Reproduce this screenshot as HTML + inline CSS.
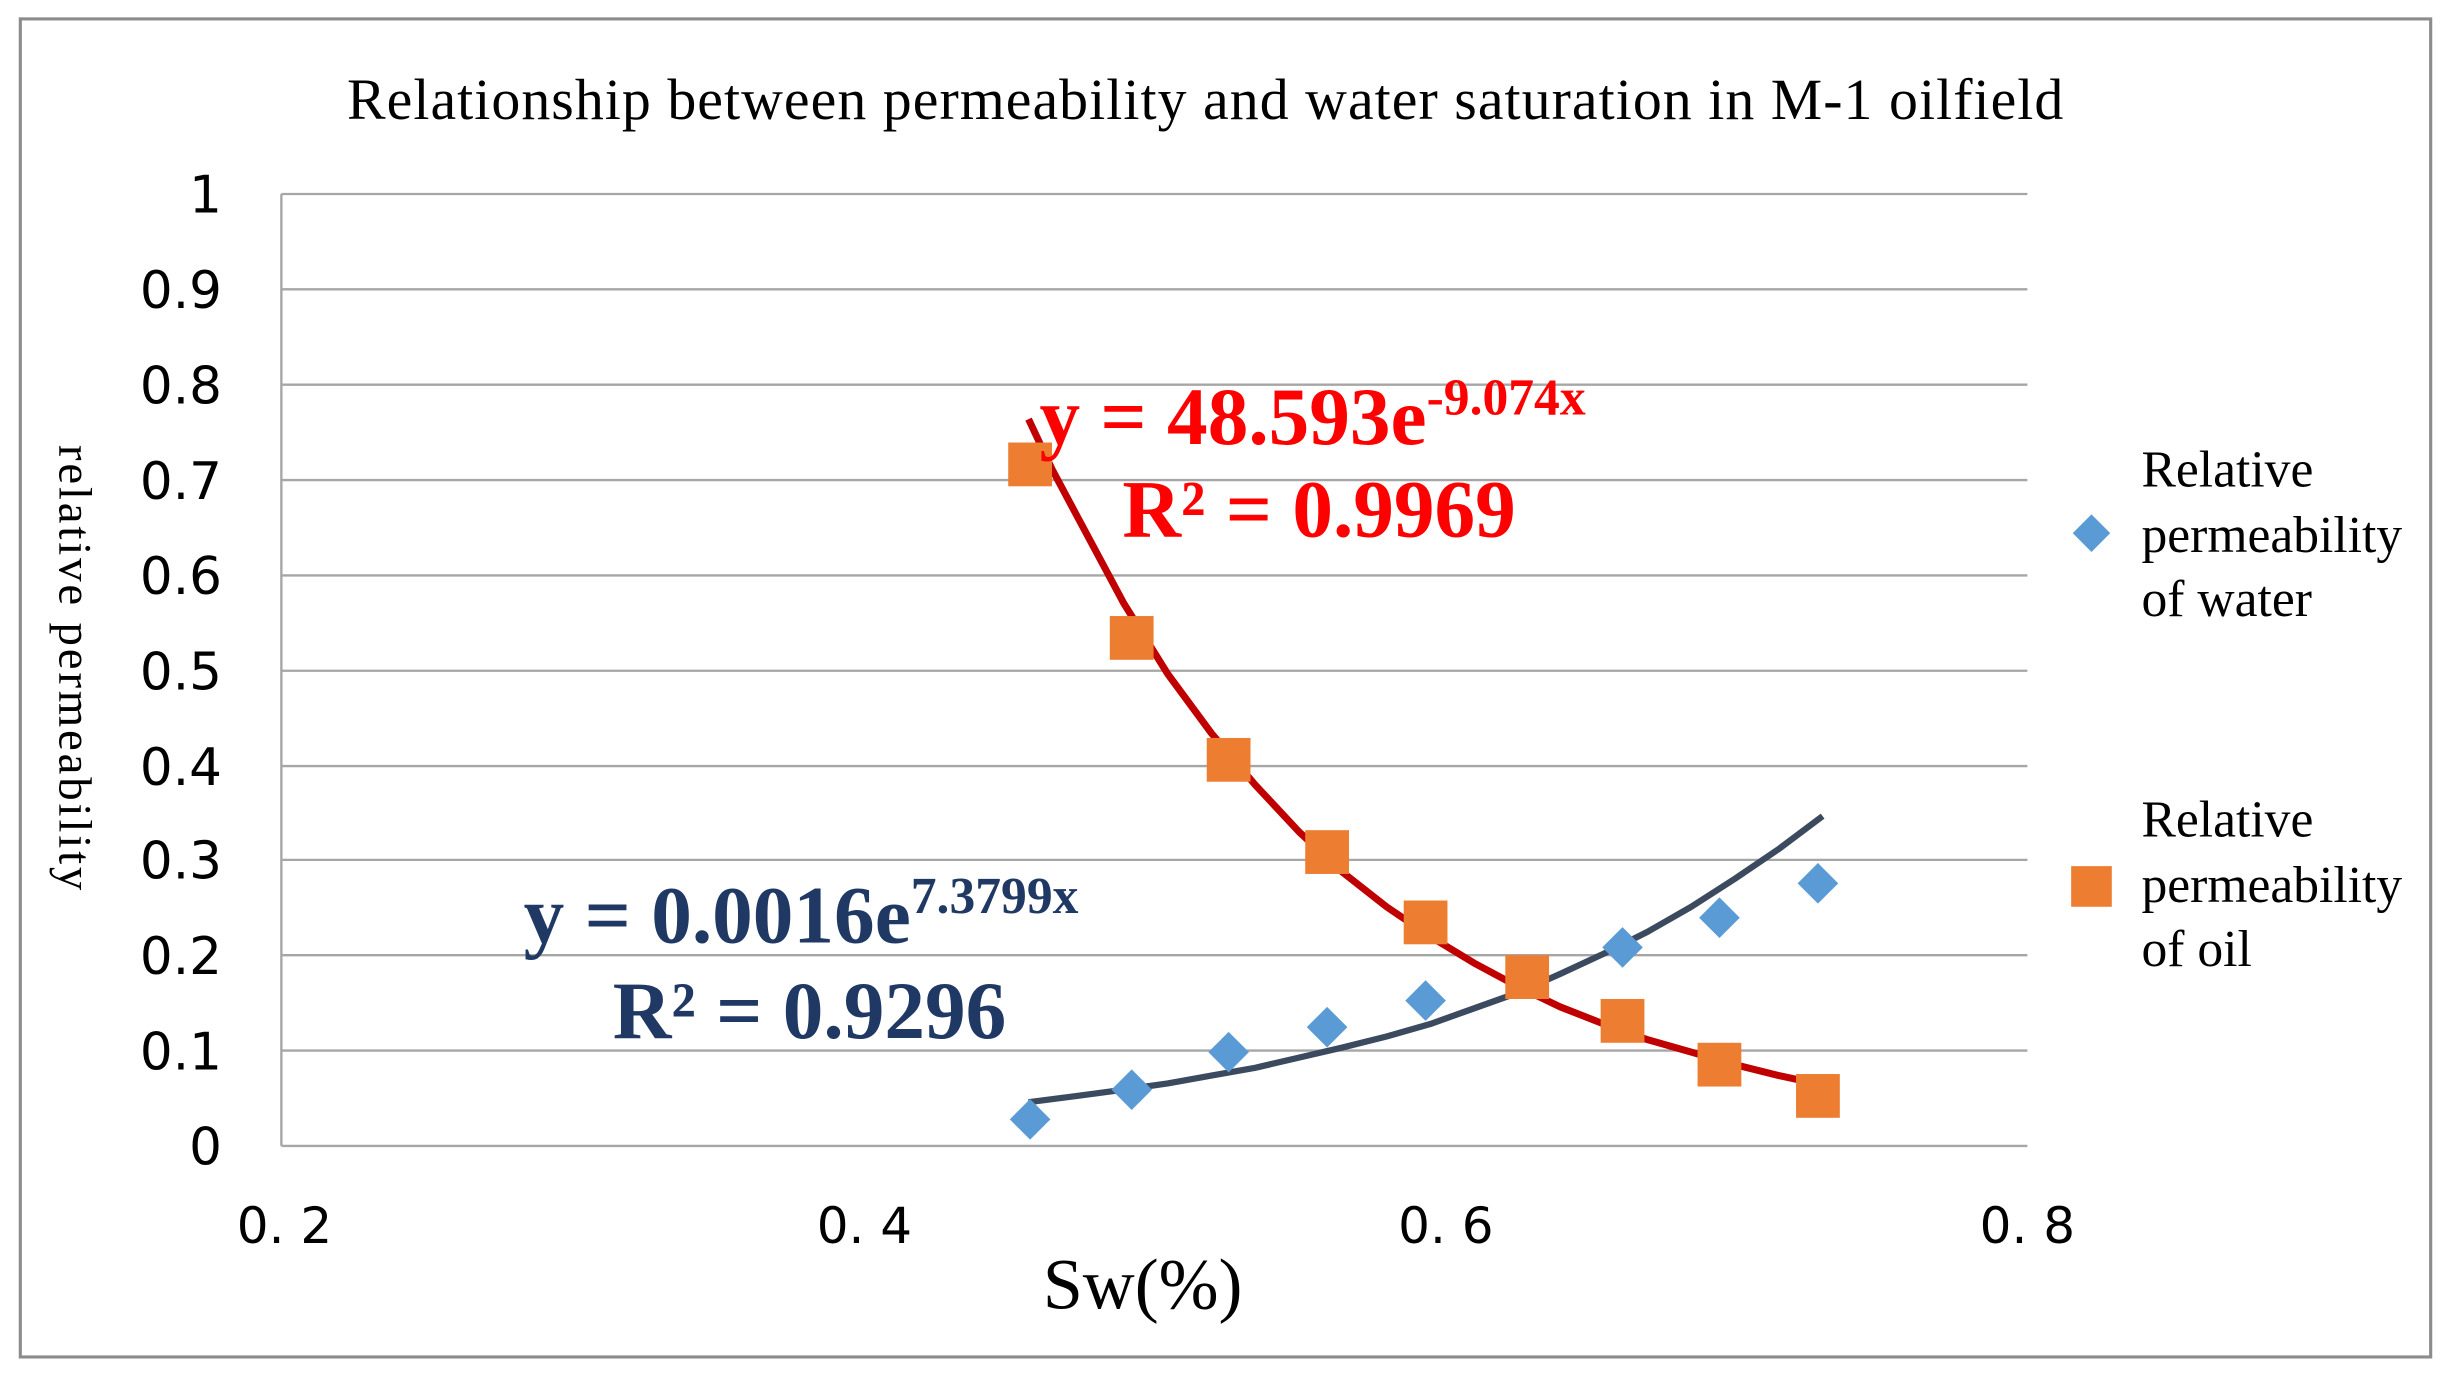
<!DOCTYPE html>
<html><head><meta charset="utf-8"><style>html,body{margin:0;padding:0;background:#fff}svg{display:block}</style></head>
<body>
<svg width="2451" height="1379" viewBox="0 0 1568 882" xmlns="http://www.w3.org/2000/svg">
<rect x="0" y="0" width="1568" height="882" fill="#fff"/>
<rect x="13" y="12" width="1542" height="856" fill="#fff" stroke="#8c8c8c" stroke-width="2"/>
<text x="771" y="76" font-family="Liberation Serif, serif" font-size="37" text-anchor="middle" textLength="1098" fill="#000">Relationship between permeability and water saturation in M-1 oilfield</text>
<g stroke="#a6a6a6" stroke-width="1.5">
<line x1="180" y1="124" x2="1297" y2="124"/><line x1="180" y1="185" x2="1297" y2="185"/>
<line x1="180" y1="246" x2="1297" y2="246"/><line x1="180" y1="307" x2="1297" y2="307"/>
<line x1="180" y1="368" x2="1297" y2="368"/><line x1="180" y1="429" x2="1297" y2="429"/>
<line x1="180" y1="490" x2="1297" y2="490"/><line x1="180" y1="550" x2="1297" y2="550"/>
<line x1="180" y1="611" x2="1297" y2="611"/><line x1="180" y1="672" x2="1297" y2="672"/>
<line x1="180" y1="733" x2="1297" y2="733"/>
<line x1="180" y1="124" x2="180" y2="733"/>
</g>
<g font-family="DejaVu Sans, sans-serif" font-size="33" text-anchor="end" fill="#000">
<text x="142" y="136">1</text><text x="142" y="197">0.9</text><text x="142" y="258">0.8</text>
<text x="142" y="319">0.7</text><text x="142" y="380">0.6</text><text x="142" y="441">0.5</text>
<text x="142" y="502">0.4</text><text x="142" y="562">0.3</text><text x="142" y="623">0.2</text>
<text x="142" y="684">0.1</text><text x="142" y="745">0</text>
</g>
<g font-family="DejaVu Sans, sans-serif" font-size="32" text-anchor="middle" fill="#000">
<text x="182" y="795">0. 2</text><text x="553" y="795">0. 4</text><text x="925" y="795">0. 6</text><text x="1297" y="795">0. 8</text>
</g>
<text x="731" y="837" font-family="Liberation Serif, serif" font-size="46" text-anchor="middle">Sw(%)</text>
<text transform="translate(38,427) rotate(90)" font-family="Liberation Serif, serif" font-size="30" text-anchor="middle" textLength="285">relative permeability</text>
<polyline fill="none" stroke="#3b4a5e" stroke-width="4" stroke-linejoin="round" points="658,705 689,701 719,697 747,693 775,688 803,683 831,676.5 859,670 887,663 915,655 943,645 971,635 998,623 1026,610 1054,596 1082,580 1110,562 1138,543 1166,522"/>
<polyline fill="none" stroke="#c00000" stroke-width="4.5" stroke-linejoin="round" points="658,268 673,300 689,330 704,358 719,386 747,431 775,469 803,502 831,532 859,558 887,580 915,599 943,616 971,631 998,644 1026,655 1054,665 1082,673 1110,681 1138,688 1166,694"/>
<g fill="#ed7d31">
<rect x="645" y="283" width="28" height="28"/><rect x="710" y="394" width="28" height="28"/>
<rect x="772" y="472" width="28" height="28"/><rect x="835" y="531" width="28" height="28"/>
<rect x="898" y="576" width="28" height="28"/><rect x="963" y="611" width="28" height="28"/>
<rect x="1024" y="639" width="28" height="28"/><rect x="1086" y="667" width="28" height="28"/>
<rect x="1149" y="687" width="28" height="28"/>
<rect x="1325" y="554" width="26" height="26"/>
</g>
<g fill="#5b9bd5">
<path d="M659,703 l13,13 -13,13 -13,-13z"/><path d="M724,684 l13,13 -13,13 -13,-13z"/>
<path d="M786,660 l13,13 -13,13 -13,-13z"/><path d="M849,644 l13,13 -13,13 -13,-13z"/>
<path d="M912,627 l13,13 -13,13 -13,-13z"/><path d="M1038,593 l13,13 -13,13 -13,-13z"/>
<path d="M1100,574 l13,13 -13,13 -13,-13z"/><path d="M1163,552 l13,13 -13,13 -13,-13z"/>
<path d="M1338,329 l12,12 -12,12 -12,-12z"/>
</g>
<g font-family="Liberation Serif, serif" font-weight="bold" font-size="52">
<text x="335" y="603" fill="#1f3864">y = 0.0016e<tspan font-size="33" dy="-19">7.3799x</tspan></text>
<text x="392" y="664" fill="#1f3864">R² = 0.9296</text>
<text x="665" y="284" fill="#ff0000">y = 48.593e<tspan font-size="33" dy="-19">-9.074x</tspan></text>
<text x="718" y="343" fill="#ff0000">R² = 0.9969</text>
</g>
<g font-family="Liberation Serif, serif" font-size="33" fill="#000">
<text x="1370" y="311">Relative</text><text x="1370" y="353">permeability</text><text x="1370" y="394">of water</text>
<text x="1370" y="535">Relative</text><text x="1370" y="577">permeability</text><text x="1370" y="618">of oil</text>
</g>
</svg>
</body></html>
